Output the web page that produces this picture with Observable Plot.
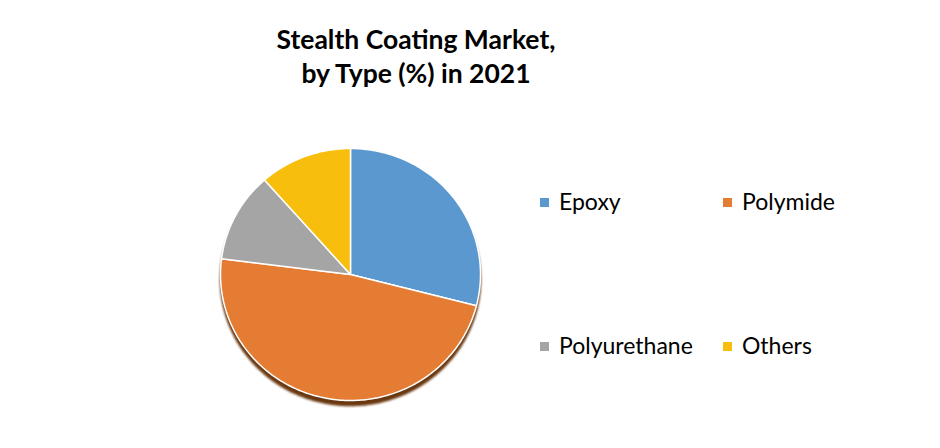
<!DOCTYPE html>
<html><head><meta charset="utf-8">
<script src="https://cdn.jsdelivr.net/npm/d3@7"></script>
<script src="https://cdn.jsdelivr.net/npm/@observablehq/plot@0.6"></script>
<style>
body{margin:0;background:#fff;}
#wrap{position:relative;width:940px;height:448px;overflow:hidden;font-family:Lato,"Open Sans",sans-serif;color:#000;}
#wrap svg{position:absolute;left:0;top:0;}
.title{position:absolute;left:0;width:832px;text-align:center;font-weight:bold;font-size:26.5px;line-height:1;}
.leg{position:absolute;font-size:23px;line-height:1;white-space:nowrap;}
.sw{position:absolute;width:9px;height:9px;}
</style></head><body><div id="wrap"></div>
<script>
const categories = ["Epoxy", "Polymide", "Polyurethane", "Others"];
const shares = [29, 48, 11.5, 11.5];
const colors = ["#5B98CF", "#E57C33", "#A5A5A5", "#F8BE0E"];
const titleLines = ["Stealth Coating Market,", "by Type (%) in 2021"];

const total = d3.sum(shares);
const slices = [];
let acc = 0;
categories.forEach((c, i) => {
  const a0 = acc / total * 2 * Math.PI, a1 = (acc + shares[i]) / total * 2 * Math.PI;
  acc += shares[i];
  const n = Math.max(2, Math.ceil((a1 - a0) / (Math.PI / 180)));
  slices.push({cat: c, px: 0, py: 0});
  for (let k = 0; k <= n; k++) {
    const a = a0 + (a1 - a0) * k / n;
    slices.push({cat: c, px: Math.sin(a), py: Math.cos(a)});
  }
  slices.push({cat: c, px: 0, py: 0});
});

const chart = Plot.plot({
  width: 940, height: 448,
  marginLeft: 220, marginRight: 460, marginTop: 148, marginBottom: 48,
  x: {domain: [-1, 1], axis: null},
  y: {domain: [-1, 1], axis: null},
  color: {domain: categories, range: colors},
  marks: [
    Plot.line(slices, {x: "px", y: "py", z: "cat", fill: "#6a3810", stroke: "#6a3810", dy: 5, imageFilter: "blur(1px)"}),
    Plot.line(slices, {x: "px", y: "py", z: "cat", fill: "cat", stroke: "white", strokeWidth: 1.5, strokeLinejoin: "round"})
  ]
});
const wrap = document.getElementById("wrap");
wrap.appendChild(chart);

titleLines.forEach((t, i) => {
  const d = document.createElement("div");
  d.className = "title";
  d.textContent = t;
  d.style.top = (26 + i * 34) + "px";
  wrap.appendChild(d);
});

const legPos = [[540, 202], [723, 202], [540, 346], [723, 346]];
categories.forEach((c, i) => {
  const [lx, ly] = legPos[i];
  const s = document.createElement("div");
  s.className = "sw";
  s.style.background = colors[i];
  s.style.left = lx + "px";
  s.style.top = (ly - 4) + "px";
  wrap.appendChild(s);
  const t = document.createElement("div");
  t.className = "leg";
  t.textContent = c;
  t.style.left = (lx + 19) + "px";
  t.style.top = (ly - 12) + "px";
  wrap.appendChild(t);
});
</script></body></html>
